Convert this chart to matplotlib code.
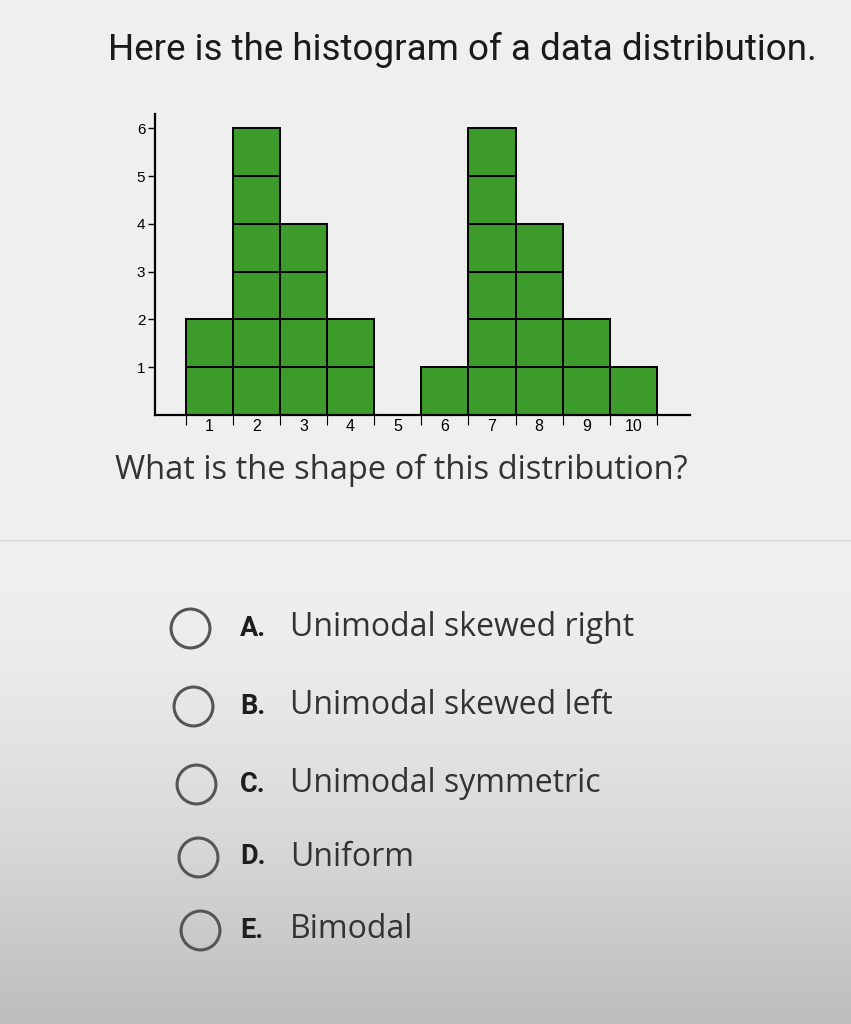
import matplotlib
matplotlib.use("Agg")
import matplotlib.pyplot as plt
import numpy as np
from matplotlib.lines import Line2D

# ---- data ----
values = [1, 2, 3, 4, 5, 6, 7, 8, 9, 10]
counts = [2, 6, 4, 2, 0, 1, 6, 4, 2, 1]
y_ticks = [1, 2, 3, 4, 5, 6]
title = "Here is the histogram of a data distribution."
question = "What is the shape of this distribution?"
option_letters = ["A.", "B.", "C.", "D.", "E."]
option_texts = ["Unimodal skewed right", "Unimodal skewed left",
                "Unimodal symmetric", "Uniform", "Bimodal"]

W, H = 851, 1024
fig = plt.figure(figsize=(W / 100, H / 100), dpi=100)

# background (screen photo look)
bg = fig.add_axes([0, 0, 1, 1], zorder=-10)
grad = np.linspace(0, 1, 256)[:, None]
top = np.array([0.94, 0.94, 0.94])
bot = np.array([0.74, 0.74, 0.74])
shade = np.clip((grad - 0.55) / 0.45, 0, 1) ** 1.5
img = top[None, None, :] * (1 - shade[..., None]) + bot[None, None, :] * shade[..., None]
bg.imshow(img, aspect="auto", extent=[0, 1, 0, 1])
bg.set_axis_off()
bg.axhline(1 - 540 / H, xmin=0.0, xmax=1.0, color="#d6d6d6", lw=1)

def fx(px):
    return px / W

def fy(py):
    return 1 - py / H

# title
fig.text(fx(108), fy(50), title, fontsize=26.5, family="Roboto",
         color="#1a1a1a", va="center", ha="left")

# histogram axes
ax = fig.add_axes([fx(155), fy(415), fx(690) - fx(155), fy(114) - fy(415)])
ax.set_facecolor("none")
green = "#3d9b2b"
nmax = max(counts)
for k in range(nmax):
    xs = [v for v, c in zip(values, counts) if c > k]
    ax.bar(xs, [1] * len(xs), bottom=k, width=1.0, color=green,
           edgecolor="black", linewidth=1.4, zorder=2)
ax.set_xlim(-0.15, 11.2)
ax.set_ylim(0, 6.3)
for s in ["top", "right"]:
    ax.spines[s].set_visible(False)
ax.spines["left"].set_linewidth(1.6)
ax.spines["bottom"].set_linewidth(1.6)
ax.set_yticks(y_ticks)
ax.set_yticklabels([str(t) for t in y_ticks], fontsize=11, family="Liberation Sans")
ax.tick_params(axis="y", length=5, width=1, pad=2)
edges = [v - 0.5 for v in values] + [values[-1] + 0.5]
ax.set_xticks(edges)
ax.set_xticklabels([""] * len(edges))
ax.set_xticks(values, minor=True)
ax.set_xticklabels([str(v) for v in values], minor=True, fontsize=11.5,
                   family="Liberation Sans")
ax.tick_params(axis="x", which="major", length=7, width=0.8)
ax.tick_params(axis="x", which="minor", length=0, pad=3)

# question
fig.text(fx(115), fy(470), question, fontsize=23.5, family="Open Sans",
         color="#333333", va="center", ha="left")

# options
circ_x = [190, 193, 196, 198, 200]
opt_y = [628, 706, 784, 857, 930]
for cx, oy, letter, txt in zip(circ_x, opt_y, option_letters, option_texts):
    fig.add_artist(Line2D([fx(cx)], [fy(oy)], marker="o", markersize=28,
                          markerfacecolor="none", markeredgecolor="#555555",
                          markeredgewidth=2.2, transform=fig.transFigure))
    fig.text(fx(240), fy(oy), letter, fontsize=19.5, family="Roboto",
             fontweight="bold", color="#1e1e1e", va="center", ha="left")
    fig.text(fx(290), fy(oy), txt, fontsize=23, family="Open Sans",
             color="#333333", va="center", ha="left")

fig.savefig("out.png", dpi=100)
